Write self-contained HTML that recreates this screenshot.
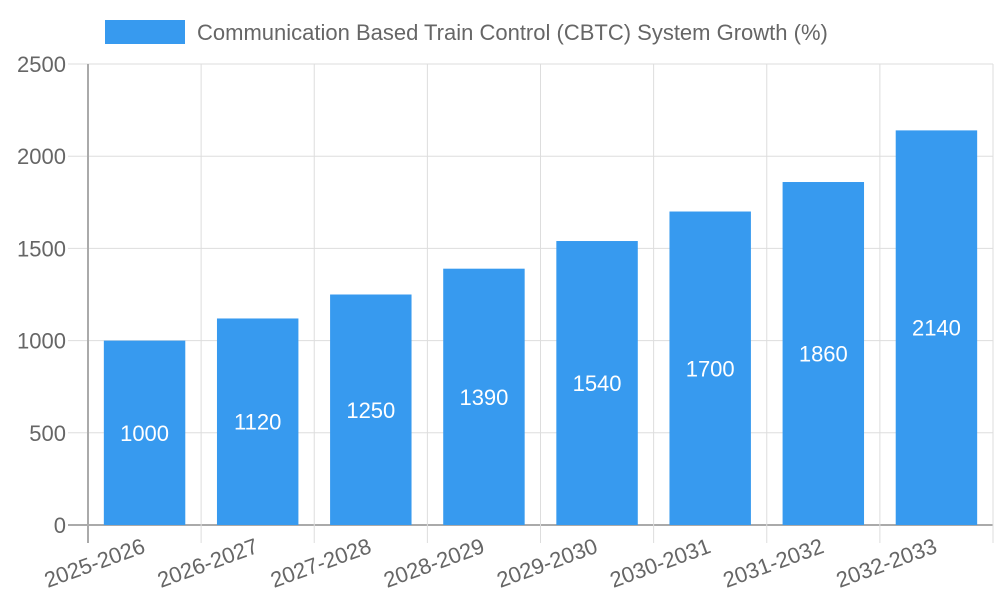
<!DOCTYPE html>
<html><head><meta charset="utf-8"><style>
html,body{margin:0;padding:0;background:#fff;}
svg{display:block;font-family:"Liberation Sans",sans-serif;}
</style></head><body>
<svg id="chart" width="1000" height="600" xmlns="http://www.w3.org/2000/svg">
<g>
<rect x="105" y="20" width="80" height="24" fill="#379aef"/>
<text x="197" y="40" font-size="22" fill="#666">Communication Based Train Control (CBTC) System Growth (%)</text>
</g>
<g id="grid"></g>
<g id="bars"></g>
<g id="axes"></g>
</svg>
<script>
const categories=["2025-2026","2026-2027","2027-2028","2028-2029","2029-2030","2030-2031","2031-2032","2032-2033"];
const values=[1000,1120,1250,1390,1540,1700,1860,2140];
const yTicks=[0,500,1000,1500,2000,2500];
const NS="http://www.w3.org/2000/svg";
const X0=88,X1=993,Y0=525,Y1=64,YMAX=2500;
const bw=(X1-X0)/categories.length;
const y=v=>Y0-(v/YMAX)*(Y0-Y1);
const xc=i=>X0+bw*(i+0.5);
function mk(tag,attrs,parent){const e=document.createElementNS(NS,tag);for(const k in attrs)e.setAttribute(k,attrs[k]);parent.appendChild(e);return e;}
const grid=document.getElementById('grid'),bars=document.getElementById('bars'),axes=document.getElementById('axes');
yTicks.forEach(t=>{
  const l=mk('line',{x1:68,x2:X1,y1:y(t),y2:y(t),stroke:t===0?'#aaa':'#ddd','stroke-width':t===0?2:1},grid);
  
  
  const tx=mk('text',{x:66,y:y(t)+8,'text-anchor':'end','font-size':22,fill:'#666'},axes);
  tx.textContent=t;
  
  
});
for(let i=0;i<=categories.length;i++){
  const x=X0+bw*i;
  const l=mk('line',{x1:x,x2:x,y1:Y1,y2:543,stroke:i===0?'#aaa':'#ddd','stroke-width':i===0?2:1},grid);
  
  
}
values.forEach((v,i)=>{
  const w=bw*0.72;
  const r=mk('rect',{x:xc(i)-w/2,y:y(v),width:w,height:Y0-y(v),fill:'#379aef'},bars);
  
  
  const t=mk('text',{x:xc(i),y:(y(v)+Y0)/2+8,'text-anchor':'middle','font-size':22,fill:'#fff'},bars);
  t.textContent=v;
  
  
  const c=mk('text',{transform:`translate(${xc(i)+2},552) rotate(-20)`,'text-anchor':'end','font-size':22,fill:'#666'},axes);
  c.textContent=categories[i];
  
  
});
</script>
</body></html>
